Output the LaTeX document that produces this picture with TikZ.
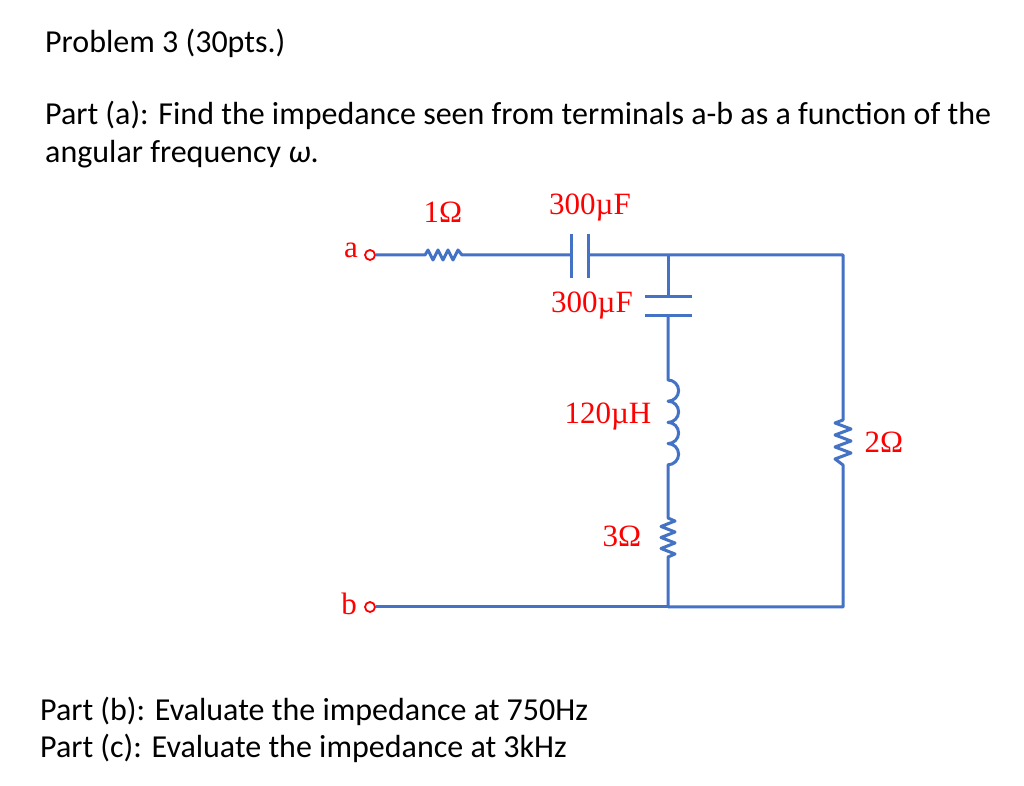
\documentclass[tikz,border=0pt]{standalone}
\usepackage{fontspec}
\setmainfont{Carlito}
\newfontfamily\lbl{Liberation Serif}
\begin{document}
\begin{tikzpicture}[x=1pt,y=1pt,
  lab/.style={text=red,font=\lbl\fontsize{31}{33}\selectfont,inner sep=0},
  txt/.style={anchor=base west,font=\fontsize{32}{36}\selectfont,inner sep=0}]
\definecolor{wc}{RGB}{68,114,196}
\tikzset{wire/.style={draw=wc,line width=3pt,line join=round}}
\useasboundingbox (0,0) rectangle (1024,786);
\fill[white] (0,0) rectangle (1024,786);
\node[txt] (t1) at (45,733) {Problem 3 (30pts.)};
\node[txt] (t2) at (45,661) {Part (a): Find the impedance seen from terminals a-b as a function of the};
\node[txt] (t3) at (45,623) {angular frequency \textit{ω}.};
\node[txt] (t4) at (40,65) {Part (b): Evaluate the impedance at 750Hz};
\node[txt] (t5) at (40,28) {Part (c): Evaluate the impedance at 3kHz};
% terminals
\node[circle,draw=red,line width=1.8pt,minimum size=10pt,inner sep=0] (a) at (370,531) {};
\node[circle,draw=red,line width=1.8pt,minimum size=10pt,inner sep=0] (b) at (370,179) {};
\node[lab,anchor=east] (la) at (358,536) {a};
\node[lab,anchor=east] (lb) at (357,182) {b};
\coordinate (r1a) at (425,531); \coordinate (r1b) at (465,531);
\coordinate (c1a) at (571,531); \coordinate (c1b) at (588,531);
\coordinate (j1) at (668,531); \coordinate (tr) at (843,531);
\coordinate (c2a) at (668,489); \coordinate (c2b) at (668,470);
\coordinate (la1) at (668,406); \coordinate (la2) at (668,321);
\coordinate (r3a) at (668,268); \coordinate (r3b) at (668,229);
\coordinate (jb) at (668,179); \coordinate (br) at (843,179);
\coordinate (r2a) at (843,366); \coordinate (r2b) at (843,321);
\draw[wire] (a.east) -- (r1a) -- ++(3,5) -- ++(5,-10) -- ++(5,10) -- ++(5,-10) -- ++(5,10) -- ++(5,-10) -- ++(5,10) -- ++(4,-5) -- (r1b) -- (c1a);
\draw[wire] (571,552) -- (571,508) (588,552) -- (588,508);
\draw[wire] (c1b) -- (j1) -- (tr) -- (r2a) -- ++(-8,-3) -- ++(16,-6) -- ++(-16,-6) -- ++(16,-6) -- ++(-16,-6) -- ++(16,-6) -- ++(-16,-6) -- ++(8,-6) -- (r2b) -- (br) -- (jb);
\draw[wire] (j1) -- (c2a);
\draw[wire] (645,489) -- (692,489) (645,470) -- (692,470);
\draw[wire] (c2b) -- (la1) arc(90:-90:10.6) arc(90:-90:10.6) arc(90:-90:10.6) arc(90:-90:10.6) -- (r3a) -- ++(7,-3) -- ++(-14,-5.5) -- ++(14,-5.5) -- ++(-14,-5.5) -- ++(14,-5.5) -- ++(-14,-5.5) -- ++(14,-5.5) -- ++(-7,-3) -- (r3b) -- (jb);
\draw[wire] (b.east) -- (jb);
\node[lab] (l1) at (443,574) {1Ω};
\node[lab] (l2) at (590,578) {300µF};
\node[lab] (l3) at (592,480) {300µF};
\node[lab] (l4) at (608,370) {120µH};
\node[lab] (l5) at (622,250) {3Ω};
\node[lab] (l6) at (884,344) {2Ω};
\end{tikzpicture}
\end{document}
